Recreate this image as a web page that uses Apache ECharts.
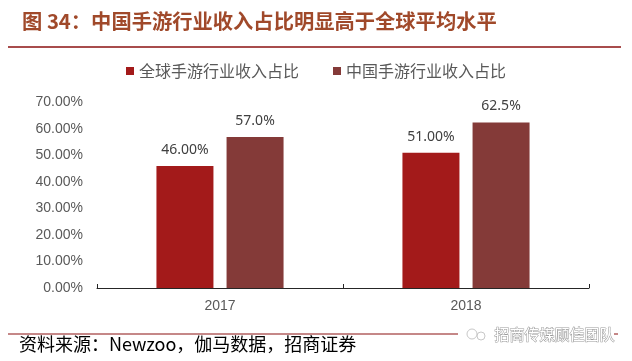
<!DOCTYPE html>
<html><head><meta charset="utf-8">
<script src="https://cdn.jsdelivr.net/npm/echarts@6/dist/echarts.min.js"></script>
<style>html,body{margin:0;padding:0;background:#fff}#c{width:632px;height:361px}</style>
</head><body><div id="c"></div>
<script>
const categories = ['2017', '2018'];
const globalShare = [46.00, 51.00];
const chinaShare = [57.0, 62.5];
const globalLabels = ['46.00%', '51.00%'];
const chinaLabels = ['57.0%', '62.5%'];
const seriesNames = ['全球手游行业收入占比', '中国手游行业收入占比'];
const yTicks = [0, 10, 20, 30, 40, 50, 60, 70];

const chart = echarts.init(document.getElementById('c'), null, {renderer: 'canvas'});
const labelFont = {fontFamily: 'Liberation Sans, Arial, sans-serif'};
chart.setOption({
  animation: false,
  backgroundColor: '#fff',
  legend: {
    top: 58, left: 'center', itemGap: 34,
    itemWidth: 8, itemHeight: 8, icon: 'rect',
    textStyle: {fontSize: 16, color: '#595959', fontFamily: 'Noto Sans CJK SC'},
    data: seriesNames
  },
  grid: {left: 97, right: 43, top: 102.5, bottom: 73, containLabel: false},
  xAxis: {
    type: 'category', data: categories,
    axisLine: {lineStyle: {color: '#262626', width: 1}},
    axisTick: {show: true, inside: true, length: 4, alignWithLabel: false, lineStyle: {color: '#262626'}},
    axisLabel: {fontSize: 14, color: '#595959', margin: 11, ...labelFont}
  },
  yAxis: {
    type: 'value', min: yTicks[0], max: yTicks[yTicks.length - 1], interval: 10,
    axisLine: {show: false}, axisTick: {show: false}, splitLine: {show: false},
    axisLabel: {fontSize: 14, color: '#595959', margin: 14, formatter: v => v.toFixed(2) + '%', ...labelFont}
  },
  series: [
    {
      name: seriesNames[0], type: 'bar', data: globalShare,
      barWidth: 57, barGap: '23%',
      itemStyle: {color: '#a31a1a'},
      label: {show: true, position: 'top', distance: 9, fontSize: 14, color: '#404040',
        fontFamily: 'Noto Sans, sans-serif', formatter: p => globalLabels[p.dataIndex]}
    },
    {
      name: seriesNames[1], type: 'bar', data: chinaShare,
      barWidth: 57,
      itemStyle: {color: '#843a38'},
      label: {show: true, position: 'top', distance: 9, fontSize: 14, color: '#404040',
        fontFamily: 'Noto Sans, sans-serif', formatter: p => chinaLabels[p.dataIndex]}
    }
  ],
  graphic: [
    {type: 'text', left: 22, top: 11, style: {text: '图 34：中国手游行业收入占比明显高于全球平均水平',
      fill: '#a0492a', font: 'bold 20.3px "Noto Sans CJK SC"'}},
    {type: 'line', shape: {x1: 8, y1: 47, x2: 621, y2: 47}, style: {stroke: '#8b1010', lineWidth: 1.5}},
    {type: 'line', shape: {x1: 8, y1: 334, x2: 618, y2: 334}, style: {stroke: '#8b1010', lineWidth: 1}},
    {type: 'rect', shape: {x: 458, y: 326, width: 156, height: 16}, style: {fill: '#fff'}},
    {type: 'circle', shape: {cx: 472, cy: 334, r: 5}, style: {fill: 'none', stroke: '#c8c8c8', lineWidth: 1}},
    {type: 'circle', shape: {cx: 481, cy: 336, r: 4}, style: {fill: 'none', stroke: '#c8c8c8', lineWidth: 1}},
    {type: 'text', left: 494, top: 326, style: {text: '招商传媒顾佳团队', fill: '#fff', stroke: '#9a9a9a', lineWidth: 1,
      font: '15px "Noto Sans CJK SC"'}},
    {type: 'text', left: 19, top: 335, style: {text: '资料来源：Newzoo，伽马数据，招商证券',
      fill: '#000', font: '18px "Noto Sans CJK SC"'}}
  ]
});
</script></body></html>
